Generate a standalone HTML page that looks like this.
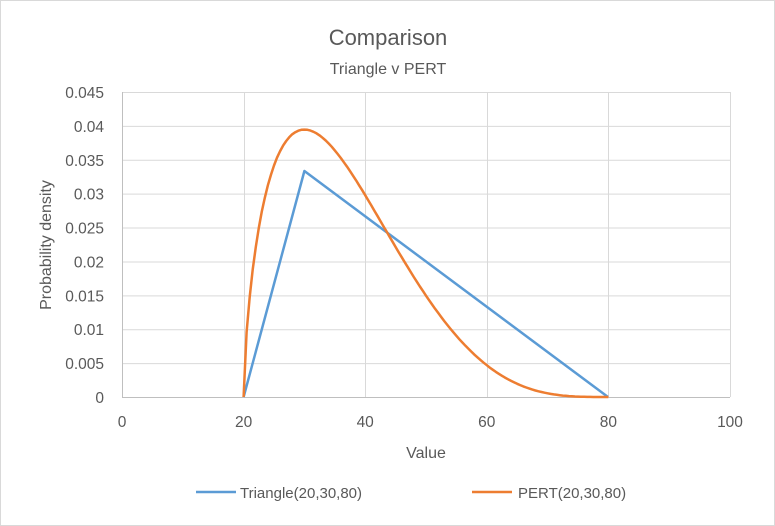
<!DOCTYPE html>
<html><head><meta charset="utf-8"><style>
html,body{margin:0;padding:0;background:#fff}
svg{display:block}
text{font-family:"Liberation Sans",sans-serif;fill:#595959}
</style></head><body>
<svg id="s" width="775" height="526" viewBox="0 0 775 526" xmlns="http://www.w3.org/2000/svg">
<rect x="0.5" y="0.5" width="774" height="525" fill="#fff" stroke="#d9d9d9"/>
<text x="388" y="45" font-size="22" text-anchor="middle">Comparison</text>
<text x="388" y="74" font-size="16" text-anchor="middle">Triangle v PERT</text>
<g id="grid" stroke="#d9d9d9" stroke-width="1"></g>
<g id="lab" font-size="15.5"></g>
<text transform="translate(51,245) rotate(-90)" font-size="16" text-anchor="middle">Probability density</text>
<text x="426" y="458" font-size="16" text-anchor="middle">Value</text>
<polyline points="243.6,397 304.4,171 608,397" fill="none" stroke="#5b9bd5" stroke-width="2.5" stroke-linejoin="round"/>
<polyline id="pert" fill="none" stroke="#ed7d31" stroke-width="2.5" stroke-linejoin="round"/>
<line x1="196" y1="492" x2="236" y2="492" stroke="#5b9bd5" stroke-width="2.5"/>
<text x="240" y="498" font-size="15">Triangle(20,30,80)</text>
<line x1="472" y1="492" x2="512" y2="492" stroke="#ed7d31" stroke-width="2.5"/>
<text x="518" y="498" font-size="15">PERT(20,30,80)</text>
</svg>
<script>
var NS="http://www.w3.org/2000/svg";
function px(v){return 122+v*6.08}
function py(d){return 397-d*(305/0.045)}
var g=document.getElementById('grid'),l=document.getElementById('lab');
function el(p,t,a,txt){var e=document.createElementNS(NS,t);for(var k in a)e.setAttribute(k,a[k]);if(txt!==undefined)e.textContent=txt;p.appendChild(e);return e}
for(var i=0;i<=9;i++){var y=py(i*0.005);el(g,'line',{x1:122,x2:730,y1:y+0.5,y2:y+0.5,stroke:i==0?'#bfbfbf':'#d9d9d9'});
var t=(i*0.005).toFixed(3).replace(/0+$/,'').replace(/\.$/,'');if(i==0)t='0';
el(l,'text',{x:104,y:y+6,'text-anchor':'end'},t);}
for(var j=0;j<=5;j++){var x=Math.round(px(j*20))+0.5;el(g,'line',{x1:x,x2:x,y1:py(0.045),y2:397,stroke:j==0?'#bfbfbf':'#d9d9d9'});
el(l,'text',{x:px(j*20),y:427,'text-anchor':'middle'},String(j*20));}
function lg(z){var c=[676.5203681218851,-1259.1392167224028,771.32342877765313,-176.61502916214059,12.507343278686905,-0.13857109526572012,9.9843695780195716e-6,1.5056327351493116e-7];
if(z<0.5)return Math.log(Math.PI/Math.sin(Math.PI*z))-lg(1-z);z-=1;var a=0.99999999999980993,t=z+7.5;for(var i=0;i<8;i++)a+=c[i]/(z+i+1);
return 0.5*Math.log(2*Math.PI)+(z+0.5)*Math.log(t)-t+Math.log(a)}
var A=1+4*10/60,B=1+4*50/60,lb=lg(A)+lg(B)-lg(A+B),pts=[];
for(var v=20;v<=80.001;v+=0.5){var u=(v-20)/60,d;if(u<=0||u>=1)d=0;else d=Math.exp((A-1)*Math.log(u)+(B-1)*Math.log(1-u)-lb)/60;
pts.push(px(v).toFixed(1)+','+py(d).toFixed(1));}
document.getElementById('pert').setAttribute('points',pts.join(' '));
</script>
</body></html>
